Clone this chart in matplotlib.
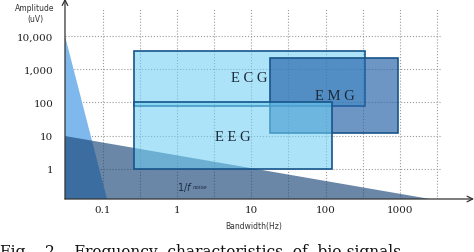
import numpy as np
import matplotlib
matplotlib.use("Agg")
import matplotlib.pyplot as plt
from matplotlib.patches import Rectangle, Polygon

# bio-signal ranges (bandwidth in Hz, amplitude in uV)
signals = ['ECG', 'EMG', 'EEG']
freq_lo = [0.26, 18, 0.26]
freq_hi = [340, 950, 122]
amp_lo = [78, 12, 1.0]
amp_hi = [3500, 2200, 100]
label_x = [9.3, 134, 5.7]
label_y = [550, 157, 9.8]

# noise regions
xlim = (0.031, 3690)
ylim = (0.125, 64900)
motion_top = 10000    # light triangle at left axis
motion_end = 0.115    # where it meets the x axis
flicker_top = 10      # 1/f noise at left axis
flicker_end = 2540

xticks = [0.1, 1, 10, 100, 1000]
xlabels = ['0.1', '1', '10', '100', '1000']
yticks = [1, 10, 100, 1000, 10000]
ylabels = ['1', '10', '100', '1,000', '10,000']

fig = plt.figure(figsize=(4.74, 2.53), dpi=100)
ax = fig.add_axes([0.1371, 0.2095, 0.9325 - 0.1371, 0.9605 - 0.2095])
ax.set_xscale('log')
ax.set_yscale('log')
ax.set_xlim(*xlim)
ax.set_ylim(*ylim)

ax.add_patch(Polygon([(xlim[0], motion_top), (xlim[0], ylim[0]), (motion_end, ylim[0])],
                     closed=True, facecolor='#7fb8ec', edgecolor='none', zorder=2))
ax.add_patch(Polygon([(xlim[0], flicker_top), (xlim[0], ylim[0]), (flicker_end, ylim[0])],
                     closed=True, facecolor=(22/255, 67/255, 119/255, 0.64), edgecolor='none', zorder=3))

fills = {'ECG': (110/255, 207/255, 243/255, 0.57),
         'EMG': (40/255, 100/255, 170/255, 0.68),
         'EEG': (110/255, 207/255, 243/255, 0.57)}
for i, s in enumerate(signals):
    r = Rectangle((freq_lo[i], amp_lo[i]), freq_hi[i] - freq_lo[i], amp_hi[i] - amp_lo[i],
                  facecolor=fills[s], edgecolor='#17558a', linewidth=1.2, zorder=4 + i)
    ax.add_patch(r)
    ax.text(label_x[i], label_y[i], ' '.join(s), family='Liberation Serif', fontsize=10.5,
            color='#1c2a3a', ha='center', va='center', zorder=10)

ax.text(1.0, 0.3, r'$1/f$', fontsize=7, color='#1c2a44', ha='left', va='center', zorder=10)
ax.text(1.62, 0.29, 'noise', fontsize=4, color='#1c2a44', style='italic', ha='left', va='center', zorder=10)

ax.set_xticks(xticks)
ax.set_xticklabels(xlabels)
ax.set_xticks([10 ** (k + 0.5) for k in range(-1, 4)], minor=True)
ax.set_xticklabels([], minor=True)
ax.set_yticks(yticks)
ax.set_yticklabels(ylabels)
ax.yaxis.set_minor_locator(matplotlib.ticker.NullLocator())
ax.tick_params(which='both', length=0)
ax.tick_params(axis='x', pad=4.5, labelsize=7.5)
ax.tick_params(axis='y', pad=8.5, labelsize=7.5)
for lab in ax.get_xticklabels() + ax.get_yticklabels():
    lab.set_family('DejaVu Serif')
    lab.set_color('#222222')

ax.grid(True, which='both', axis='x', linestyle=':', color='#9a9a9a', linewidth=0.8)
ax.grid(True, which='major', axis='y', linestyle=':', color='#9a9a9a', linewidth=0.8)
ax.set_axisbelow(True)

for sp in ax.spines.values():
    sp.set_visible(False)

# axes with arrow heads
ax.annotate('', xy=(0, 1.055), xytext=(0, 0), xycoords='axes fraction',
            arrowprops=dict(arrowstyle='->', color='#333333', lw=0.9, shrinkA=0, shrinkB=0))
ax.annotate('', xy=(1.085, 0), xytext=(0, 0), xycoords='axes fraction',
            arrowprops=dict(arrowstyle='->', color='#333333', lw=0.9, shrinkA=0, shrinkB=0))

fig.text(0.074, 0.985, 'Amplitude\n(uV)', fontsize=5.5, ha='center', va='top', color='#333333',
         linespacing=1.3)
ax.text(0.5, -0.115, 'Bandwidth(Hz)', transform=ax.transAxes, fontsize=5.5, ha='center', va='top',
        color='#333333')

# caption runs off the bottom edge, as in the source image
fig.text(0.0, 0.035, 'Fig.   2.   Frequency  characteristics  of  bio-signals', family='DejaVu Serif',
         fontsize=11.2, ha='left', va='top', color='#111111')

fig.savefig('out.png', dpi=100)
